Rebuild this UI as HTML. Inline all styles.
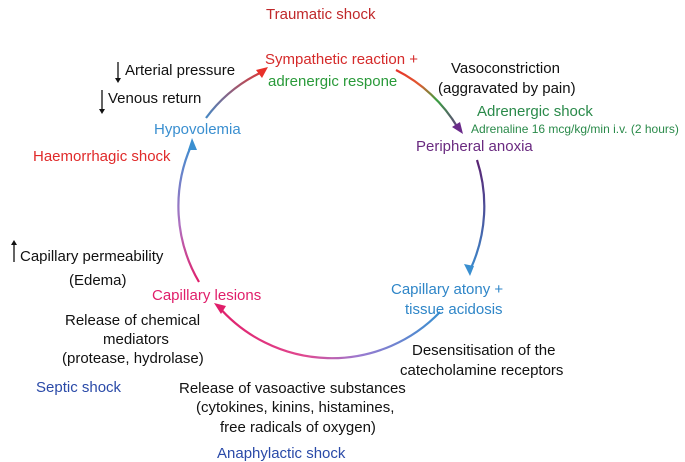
<!DOCTYPE html>
<html><head><style>
html,body{margin:0;padding:0;background:#fff;}
svg{display:block;}
text{font-family:"Liberation Sans",sans-serif;font-size:15px;}
</style></head><body>
<svg width="685" height="462" viewBox="0 0 685 462" xmlns="http://www.w3.org/2000/svg">
<defs>
<linearGradient id="g1" x1="200" y1="120" x2="268" y2="68" gradientUnits="userSpaceOnUse"><stop offset="0" stop-color="#3a8fd0"/><stop offset="1" stop-color="#e8302a"/></linearGradient>
<linearGradient id="g2" x1="395" y1="70" x2="463" y2="133" gradientUnits="userSpaceOnUse"><stop offset="0" stop-color="#e8302a"/><stop offset="0.3" stop-color="#e05a30"/><stop offset="0.55" stop-color="#3aa040"/><stop offset="1" stop-color="#6a2a8a"/></linearGradient>
<linearGradient id="g3" x1="478" y1="158" x2="470" y2="275" gradientUnits="userSpaceOnUse"><stop offset="0" stop-color="#5a2070"/><stop offset="1" stop-color="#3a8fd0"/></linearGradient>
<linearGradient id="g4" x1="440" y1="310" x2="215" y2="305" gradientUnits="userSpaceOnUse"><stop offset="0" stop-color="#3a8fd0"/><stop offset="0.35" stop-color="#9a7ad0"/><stop offset="0.6" stop-color="#e04890"/><stop offset="1" stop-color="#e01e6a"/></linearGradient>
<linearGradient id="g5" x1="198" y1="282" x2="190" y2="140" gradientUnits="userSpaceOnUse"><stop offset="0" stop-color="#e01e6a"/><stop offset="0.4" stop-color="#b070c0"/><stop offset="1" stop-color="#3a8fd0"/></linearGradient>
</defs>
<g fill="none" stroke-width="2.2">
<path d="M206,118 A150,150 0 0 1 262,72" stroke="url(#g1)"/>
<path d="M396,70 A150,150 0 0 1 458,128" stroke="url(#g2)"/>
<path d="M477,160 A150,150 0 0 1 471,268" stroke="url(#g3)"/>
<path d="M440,312 A150,150 0 0 1 218,306" stroke="url(#g4)"/>
<path d="M199,282 A150,150 0 0 1 191,146" stroke="url(#g5)"/>
</g>
<polygon points="268,67 256,70 262,78" fill="#e8302a"/>
<polygon points="463,134 452,127 460,122" fill="#6a2a8a"/>
<polygon points="470,276 464,264 474,266" fill="#3a8fd0"/>
<polygon points="214,303 226,306 221,314" fill="#e01e6a"/>
<polygon points="192,138 188,150 197,150" fill="#3a8fd0"/>
<text x="266" y="19" fill="#c0282a">Traumatic shock</text>
<text x="265" y="64" fill="#d52a2a">Sympathetic reaction +</text>
<text x="268" y="86" fill="#2a9a3a">adrenergic respone</text>
<text x="451" y="73" fill="#111">Vasoconstriction</text>
<text x="438" y="93" fill="#111">(aggravated by pain)</text>
<text x="477" y="116" fill="#2a8a4a">Adrenergic shock</text>
<text x="471" y="133" fill="#2a8a4a" style="font-size:12px">Adrenaline 16 mcg/kg/min i.v. (2 hours)</text>
<text x="416" y="151" fill="#6a2a80">Peripheral anoxia</text>
<text x="125" y="75" fill="#111">Arterial pressure</text>
<text x="108" y="103" fill="#111">Venous return</text>
<line x1="118" y1="62" x2="118" y2="80" stroke="#111" stroke-width="1.3"/><polygon points="115,78 121,78 118,83" fill="#111"/>
<line x1="102" y1="90" x2="102" y2="111" stroke="#111" stroke-width="1.3"/><polygon points="99,109 105,109 102,114" fill="#111"/>
<text x="154" y="134" fill="#3a8fd0">Hypovolemia</text>
<text x="33" y="161" fill="#e02a2a">Haemorrhagic shock</text>
<line x1="14" y1="243" x2="14" y2="262" stroke="#111" stroke-width="1.3"/><polygon points="11,245 17,245 14,240" fill="#111"/>
<text x="20" y="261" fill="#111">Capillary permeability</text>
<text x="69" y="285" fill="#111">(Edema)</text>
<text x="152" y="300" fill="#e01e6a">Capillary lesions</text>
<text x="391" y="294" fill="#2f86c8">Capillary atony +</text>
<text x="405" y="314" fill="#2f86c8">tissue acidosis</text>
<text x="65" y="325" fill="#111">Release of chemical</text>
<text x="103" y="344" fill="#111">mediators</text>
<text x="62" y="363" fill="#111">(protease, hydrolase)</text>
<text x="412" y="355" fill="#111">Desensitisation of the</text>
<text x="400" y="375" fill="#111">catecholamine receptors</text>
<text x="36" y="392" fill="#2a4aa8">Septic shock</text>
<text x="179" y="393" fill="#111">Release of vasoactive substances</text>
<text x="196" y="412" fill="#111">(cytokines, kinins, histamines,</text>
<text x="220" y="432" fill="#111">free radicals of oxygen)</text>
<text x="217" y="458" fill="#2a4aa8">Anaphylactic shock</text>
</svg>
</body></html>
